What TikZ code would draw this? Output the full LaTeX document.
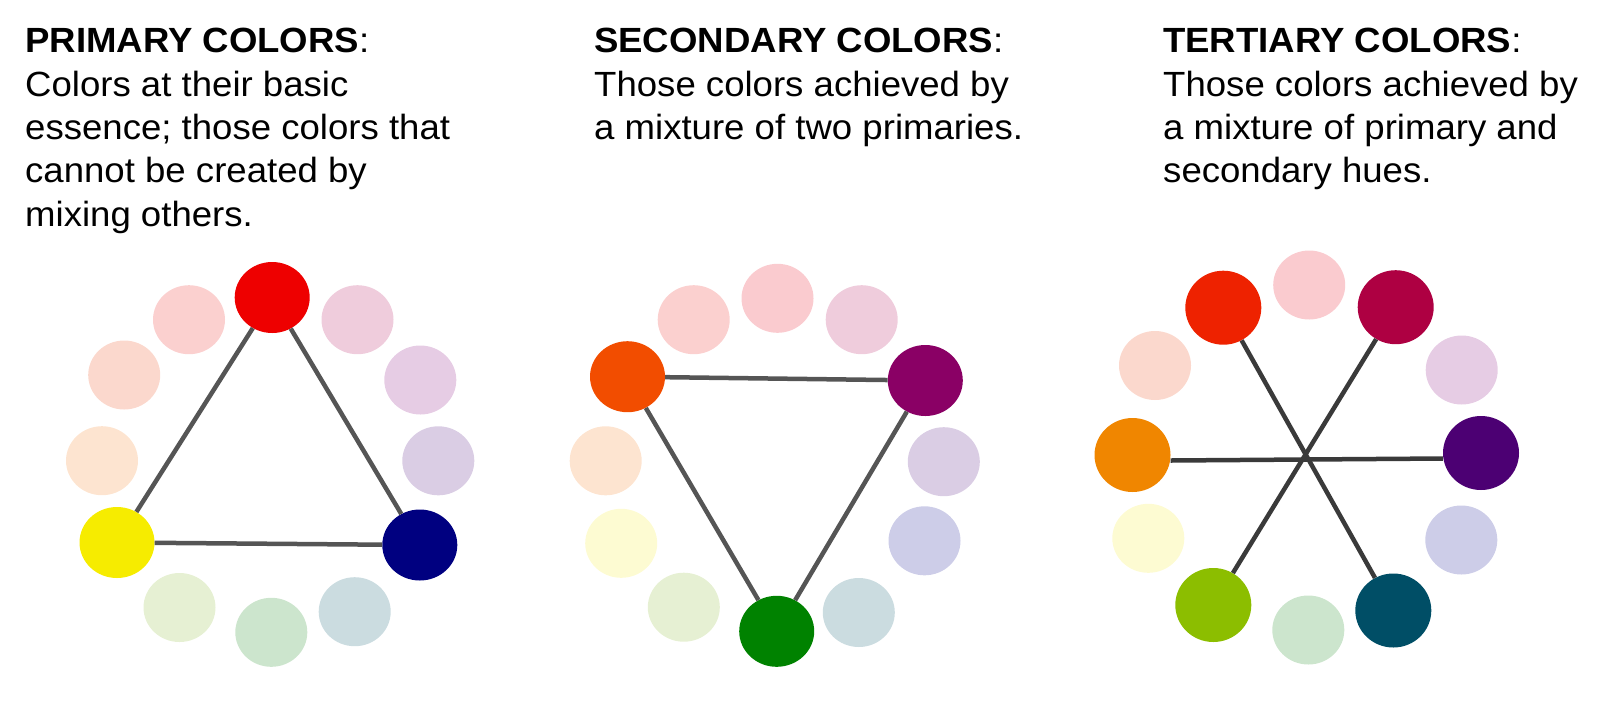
\documentclass[tikz,border=0pt]{standalone}
\usepackage{fontspec}
\setmainfont[FakeStretch=1.045]{Liberation Sans}
\usetikzlibrary{shapes.geometric}
% wheel colours
\definecolor{cRed}{HTML}{EE0000}
\definecolor{cPinkA}{HTML}{FBD0CF}
\definecolor{cPinkB}{HTML}{FACBCF}
\definecolor{cSalmon}{HTML}{FBD8CD}
\definecolor{cPeach}{HTML}{FDE4D0}
\definecolor{cYellow}{HTML}{F6EC00}
\definecolor{cLtYellow}{HTML}{FDFBD2}
\definecolor{cLtGreenA}{HTML}{E6F0D3}
\definecolor{cLtGreenB}{HTML}{CCE5CD}
\definecolor{cBlueGray}{HTML}{CBDCE0}
\definecolor{cNavy}{HTML}{000080}
\definecolor{cLavender}{HTML}{DACDE4}
\definecolor{cLavBlue}{HTML}{CDCDE8}
\definecolor{cLilac}{HTML}{E6CCE4}
\definecolor{cMauve}{HTML}{EFCCDC}
\definecolor{cOrangeRed}{HTML}{F24D00}
\definecolor{cPurple}{HTML}{8A0065}
\definecolor{cGreen}{HTML}{008200}
\definecolor{cRedT}{HTML}{EE2200}
\definecolor{cCrimson}{HTML}{AE0042}
\definecolor{cOrange}{HTML}{F08600}
\definecolor{cViolet}{HTML}{4C0073}
\definecolor{cYGreen}{HTML}{8CBE00}
\definecolor{cTeal}{HTML}{004E66}
\definecolor{lineA}{HTML}{555555}
\definecolor{lineB}{HTML}{3A3A3A}
\tikzset{
  txt/.style={anchor=base west, inner sep=0pt, font=\fontsize{35}{42}\selectfont},
  dot/.style={ellipse, inner sep=0pt, minimum width=72pt, minimum height=69pt, fill=#1},
  bigdot/.style={ellipse, inner sep=0pt, minimum width=75pt, minimum height=71pt, fill=#1},
  hugedot/.style={ellipse, inner sep=0pt, minimum width=76pt, minimum height=74pt, fill=#1},
  linkA/.style={draw=lineA, line width=4.5pt},
  linkB/.style={draw=lineB, line width=4.5pt},
}
\begin{document}
\begin{tikzpicture}[x=1pt, y=-1pt]
\path[use as bounding box] (0,0) rectangle (1600,713);

% ---------- texts ----------
\node[txt] (p1) at (25,52) {\bfseries PRIMARY COLORS\mdseries:};
\node[txt] (p2) at (25,96.5) {Colors at their basic};
\node[txt] (p3) at (25,139.5) {essence; those colors that};
\node[txt] (p4) at (25,182.5) {cannot be created by};
\node[txt] (p5) at (25,226.5) {mixing others.};

\node[txt] (s1) at (594,52) {\bfseries SECONDARY COLORS\mdseries:};
\node[txt] (s2) at (594,96.5) {Those colors achieved by};
\node[txt] (s3) at (594,139.5) {a mixture of two primaries.};

\node[txt] (t1) at (1163,52) {\bfseries TERTIARY COLORS\mdseries:};
\node[txt] (t2) at (1163,96.5) {Those colors achieved by};
\node[txt] (t3) at (1163,139.5) {a mixture of primary and};
\node[txt] (t4) at (1163,182.5) {secondary hues.};

% ---------- wheel 1 : primary ----------
\node[bigdot=cRed]      (a1)  at (272.2,297.5) {};
\node[dot=cMauve]       (a2)  at (357.5,319.7) {};
\node[dot=cLilac]       (a3)  at (420.3,380) {};
\node[dot=cLavender]    (a4)  at (438.3,460.8) {};
\node[bigdot=cNavy]     (a5)  at (419.8,545) {};
\node[dot=cBlueGray]    (a6)  at (354.7,611.7) {};
\node[dot=cLtGreenB]    (a7)  at (271.3,632.3) {};
\node[dot=cLtGreenA]    (a8)  at (179.5,607.5) {};
\node[bigdot=cYellow]   (a9)  at (117,542.5) {};
\node[dot=cPeach]       (a10) at (102,460.7) {};
\node[dot=cSalmon]      (a11) at (124.2,375) {};
\node[dot=cPinkA]       (a12) at (189,319.7) {};
\draw[linkA] (a1) -- (a5);
\draw[linkA] (a1) -- (a9);
\draw[linkA] (a9) -- (a5);

% ---------- wheel 2 : secondary ----------
\node[dot=cPinkB]        (b1)  at (777.5,298.3) {};
\node[dot=cMauve]        (b2)  at (861.7,319.7) {};
\node[bigdot=cPurple]    (b3)  at (925.3,380.5) {};
\node[dot=cLavender]     (b4)  at (943.8,461.7) {};
\node[dot=cLavBlue]      (b5)  at (924.5,540.8) {};
\node[dot=cBlueGray]     (b6)  at (858.8,612.5) {};
\node[bigdot=cGreen]     (b7)  at (776.7,631.3) {};
\node[dot=cLtGreenA]     (b8)  at (683.8,607.2) {};
\node[dot=cLtYellow]     (b9)  at (621.2,543.3) {};
\node[dot=cPeach]        (b10) at (605.7,460.8) {};
\node[bigdot=cOrangeRed] (b11) at (627.5,376.7) {};
\node[dot=cPinkA]        (b12) at (693.7,319.7) {};
\draw[linkA] (b11) -- (b3);
\draw[linkA] (b11) -- (b7);
\draw[linkA] (b3) -- (b7);

% ---------- wheel 3 : tertiary ----------
\node[dot=cPinkB]        (c1)  at (1309.2,285) {};
\node[hugedot=cCrimson]  (c2)  at (1395.7,307.2) {};
\node[dot=cLilac]        (c3)  at (1461.7,370) {};
\node[hugedot=cViolet]   (c4)  at (1481,453) {};
\node[dot=cLavBlue]      (c5)  at (1461.3,540) {};
\node[hugedot=cTeal]     (c6)  at (1393.3,610.5) {};
\node[dot=cLtGreenB]     (c7)  at (1308.3,630) {};
\node[hugedot=cYGreen]   (c8)  at (1213.3,605) {};
\node[dot=cLtYellow]     (c9)  at (1148.3,538.3) {};
\node[hugedot=cOrange]   (c10) at (1132.5,455) {};
\node[dot=cSalmon]       (c11) at (1155,365.5) {};
\node[hugedot=cRedT]     (c12) at (1223.3,307.7) {};
\draw[linkB] (c12) -- (c6);
\draw[linkB] (c2) -- (c8);
\draw[linkB] ([yshift=-5.5pt]c10.east) -- ([yshift=-5.5pt]c4.west);
\end{tikzpicture}
\end{document}
